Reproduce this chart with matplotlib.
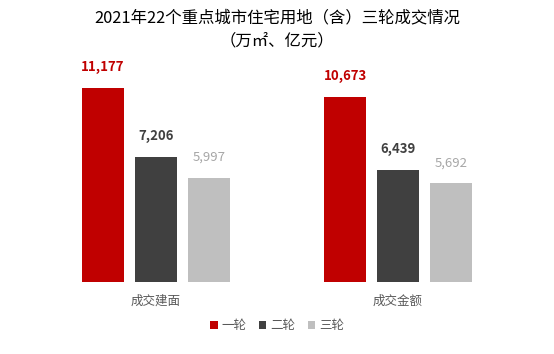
import matplotlib.pyplot as plt
import numpy as np

plt.rcParams['font.family'] = ['Noto Sans CJK SC', 'DejaVu Sans']

# data
categories = ['成交建面', '成交金额']
series = ['一轮', '二轮', '三轮']
round1 = [11177, 10673]
round2 = [7206, 6439]
round3 = [5997, 5692]

colors = ['#C00000', '#404040', '#BFBFBF']
label_colors = ['#C00000', '#404040', '#A6A6A6']
label_weights = ['bold', 'bold', 'normal']

fig = plt.figure(figsize=(5.54, 3.54), dpi=100)
# axes placed in figure pixels: left 35, right 519, bottom 282, top 60
ax = fig.add_axes([35 / 554, (354 - 282) / 354, 484 / 554, 222 / 354])

x = np.arange(len(categories))
offset = 0.219
width = 0.174
values = [round1, round2, round3]

for i, (name, vals) in enumerate(zip(series, values)):
    pos = x + (i - 1) * offset
    bars = ax.bar(pos, vals, width=width, color=colors[i], label=name)
    for b, v in zip(bars, vals):
        ax.annotate(f'{v:,}', (b.get_x() + b.get_width() / 2, v),
                    xytext=(0, 10), textcoords='offset points',
                    ha='center', va='bottom', fontsize=9.5,
                    color=label_colors[i], fontweight=label_weights[i])

ax.set_xlim(-0.5, 1.5)
ax.set_ylim(0, 12800)
ax.set_xticks(x)
ax.set_xticklabels(categories, fontsize=9, color='#595959')
ax.tick_params(axis='x', length=0, pad=9)
ax.set_yticks([])
for s in ax.spines.values():
    s.set_visible(False)

fig.text(0.5, 1 - 18 / 354, '2021年22个重点城市住宅用地（含）三轮成交情况',
         ha='center', va='center', fontsize=11.8, color='#000000')
fig.text(0.5, 1 - 41 / 354, '（万㎡、亿元）',
         ha='center', va='center', fontsize=11.8, color='#000000')

leg = fig.legend(loc='center', bbox_to_anchor=(0.5, 1 - 326 / 354), ncol=3,
                 frameon=False, fontsize=9, handlelength=0.6, handleheight=0.6,
                 handletextpad=0.3, columnspacing=1.0)
for t in leg.get_texts():
    t.set_color('#595959')

fig.savefig('out.png', dpi=100)
